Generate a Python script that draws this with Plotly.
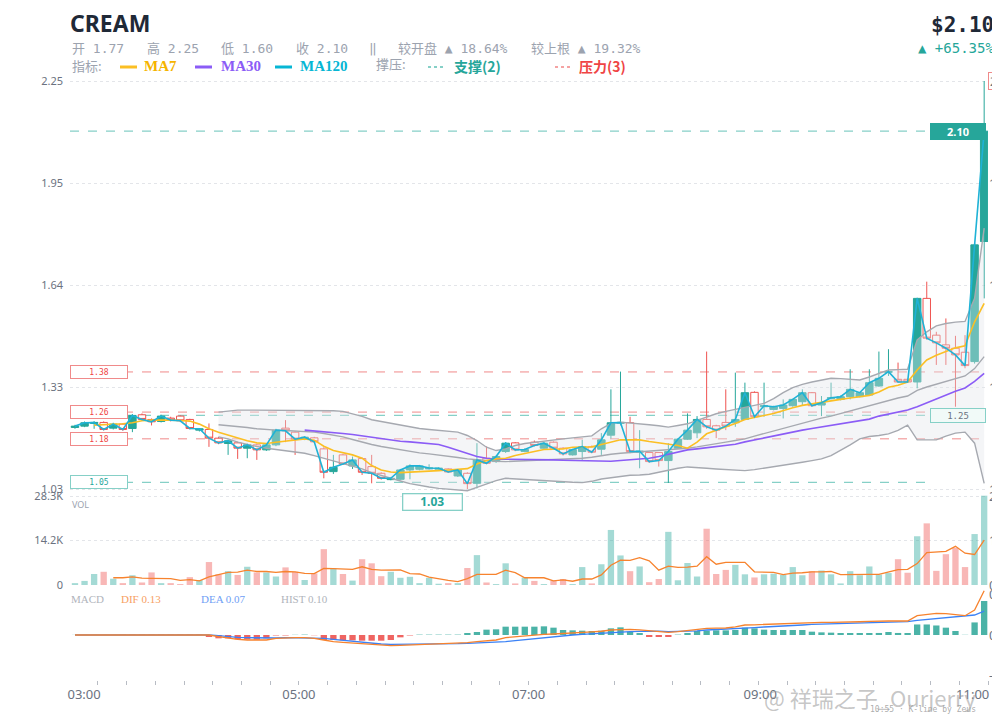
import plotly.graph_objects as go

# CREAM 5-minute candles, about 02:55 -> 10:50
opens = [1.214, 1.218, 1.226, 1.229, 1.212, 1.224, 1.211, 1.252, 1.238, 1.232,
         1.242, 1.248, 1.238, 1.206, 1.208, 1.182, 1.166, 1.168, 1.152, 1.162,
         1.147, 1.162, 1.212, 1.200, 1.179, 1.183, 1.150, 1.082, 1.132, 1.099,
         1.121, 1.097, 1.077, 1.058, 1.059, 1.087, 1.089, 1.090, 1.089, 1.090,
         1.069, 1.077, 1.047, 1.122, 1.112, 1.142, 1.168, 1.142, 1.170, 1.152,
         1.170, 1.152, 1.132, 1.142, 1.156, 1.149, 1.191, 1.226, 1.228, 1.140,
         1.139, 1.139, 1.115, 1.152, 1.179, 1.198, 1.238, 1.219, 1.229, 1.228,
         1.238, 1.319, 1.276, 1.268, 1.271, 1.279, 1.291, 1.318, 1.281, 1.300,
         1.298, 1.306, 1.306, 1.311, 1.338, 1.379, 1.358, 1.358, 1.350, 1.600,
         1.490, 1.461, 1.451, 1.439, 1.411, 1.770]
highs = [1.222, 1.232, 1.233, 1.232, 1.228, 1.226, 1.254, 1.256, 1.241, 1.252,
         1.246, 1.250, 1.240, 1.212, 1.226, 1.186, 1.178, 1.172, 1.166, 1.165,
         1.166, 1.210, 1.236, 1.202, 1.188, 1.186, 1.155, 1.132, 1.135, 1.127,
         1.124, 1.132, 1.080, 1.066, 1.090, 1.104, 1.102, 1.104, 1.095, 1.092,
         1.090, 1.080, 1.167, 1.157, 1.130, 1.170, 1.170, 1.152, 1.175, 1.170,
         1.172, 1.155, 1.150, 1.177, 1.160, 1.197, 1.328, 1.381, 1.246, 1.206,
         1.140, 1.140, 1.167, 1.182, 1.256, 1.248, 1.441, 1.222, 1.328, 1.378,
         1.348, 1.322, 1.348, 1.279, 1.298, 1.300, 1.328, 1.320, 1.308, 1.348,
         1.310, 1.388, 1.320, 1.388, 1.441, 1.448, 1.408, 1.360, 1.602, 1.650,
         1.500, 1.540, 1.488, 1.490, 1.765, 2.250]
lows = [1.210, 1.215, 1.210, 1.205, 1.208, 1.204, 1.200, 1.234, 1.220, 1.229,
        1.232, 1.230, 1.208, 1.202, 1.156, 1.164, 1.132, 1.120, 1.122, 1.117,
        1.144, 1.158, 1.170, 1.132, 1.176, 1.168, 1.062, 1.075, 1.102, 1.090,
        1.072, 1.047, 1.058, 1.056, 1.056, 1.059, 1.086, 1.088, 1.087, 1.078,
        1.066, 1.030, 1.032, 1.104, 1.108, 1.138, 1.143, 1.140, 1.157, 1.150,
        1.150, 1.130, 1.130, 1.117, 1.137, 1.132, 1.181, 1.220, 1.137, 1.092,
        1.108, 1.097, 1.048, 1.150, 1.177, 1.182, 1.210, 1.182, 1.206, 1.216,
        1.236, 1.243, 1.246, 1.265, 1.241, 1.276, 1.281, 1.276, 1.248, 1.298,
        1.295, 1.298, 1.304, 1.308, 1.336, 1.368, 1.348, 1.348, 1.331, 1.476,
        1.401, 1.401, 1.276, 1.391, 1.405, 1.600]
closes = [1.218, 1.228, 1.229, 1.208, 1.224, 1.208, 1.250, 1.238, 1.231, 1.248,
          1.236, 1.234, 1.211, 1.210, 1.182, 1.168, 1.174, 1.152, 1.162, 1.147,
          1.162, 1.206, 1.204, 1.179, 1.185, 1.171, 1.080, 1.095, 1.105, 1.117,
          1.080, 1.077, 1.062, 1.062, 1.087, 1.099, 1.099, 1.093, 1.092, 1.081,
          1.087, 1.046, 1.117, 1.107, 1.127, 1.167, 1.147, 1.148, 1.160, 1.167,
          1.152, 1.135, 1.148, 1.157, 1.140, 1.177, 1.228, 1.229, 1.142, 1.143,
          1.112, 1.115, 1.142, 1.179, 1.206, 1.238, 1.216, 1.206, 1.218, 1.238,
          1.318, 1.246, 1.279, 1.276, 1.281, 1.298, 1.318, 1.279, 1.288, 1.303,
          1.306, 1.328, 1.318, 1.348, 1.361, 1.381, 1.350, 1.350, 1.600, 1.481,
          1.467, 1.451, 1.431, 1.399, 1.760, 2.100]

ma7 = [None, None, 1.221, 1.222, 1.224, 1.225, 1.228, 1.234, 1.236, 1.237,
       1.236, 1.235, 1.233, 1.224, 1.210, 1.200, 1.191, 1.182, 1.174, 1.168,
       1.166, 1.170, 1.174, 1.177, 1.180, 1.176, 1.158, 1.145, 1.138, 1.132,
       1.122, 1.100, 1.087, 1.081, 1.079, 1.080, 1.082, 1.083, 1.085, 1.087,
       1.088, 1.091, 1.105, 1.115, 1.120, 1.122, 1.130, 1.136, 1.142, 1.148,
       1.149, 1.150, 1.155, 1.155, 1.156, 1.163, 1.170, 1.177, 1.177, 1.177,
       1.172, 1.168, 1.166, 1.160, 1.152, 1.170, 1.195, 1.205, 1.215, 1.226,
       1.238, 1.245, 1.250, 1.256, 1.265, 1.273, 1.280, 1.285, 1.290, 1.294,
       1.298, 1.302, 1.306, 1.310, 1.320, 1.334, 1.340, 1.350, 1.386, 1.416,
       1.430, 1.441, 1.452, 1.458, 1.530, 1.585]
ma30 = [None] * 24 + [
    1.206, 1.204, 1.200, 1.198, 1.196, 1.193,
    1.189, 1.184, 1.180, 1.177, 1.173, 1.171, 1.168, 1.167, 1.163, 1.155,
    1.145, 1.135, 1.127, 1.122, 1.119, 1.119, 1.119, 1.119, 1.118, 1.117,
    1.117, 1.116, 1.115, 1.114, 1.113, 1.112, 1.113, 1.115, 1.117, 1.119,
    1.122, 1.127, 1.134, 1.141, 1.147, 1.150, 1.153, 1.156, 1.159, 1.164,
    1.171, 1.177, 1.183, 1.190, 1.196, 1.201, 1.206, 1.211, 1.216, 1.221,
    1.226, 1.230, 1.234, 1.239, 1.248, 1.254, 1.259, 1.266, 1.276, 1.288,
    1.300, 1.312, 1.322, 1.332, 1.352, 1.376]

bb_upper = [None] * 15 + [
    1.260, 1.264, 1.266, 1.266, 1.266,
    1.266, 1.266, 1.266, 1.266, 1.266, 1.265, 1.266, 1.264, 1.262, 1.255,
    1.247, 1.237, 1.232, 1.226, 1.220, 1.215, 1.211, 1.208, 1.206, 1.204,
    1.200, 1.190, 1.175, 1.155, 1.145, 1.150, 1.160, 1.166, 1.170, 1.174,
    1.178, 1.180, 1.183, 1.186, 1.189, 1.210, 1.226, 1.230, 1.228, 1.225,
    1.222, 1.219, 1.215, 1.220, 1.225, 1.235, 1.246, 1.255, 1.262, 1.268,
    1.274, 1.280, 1.286, 1.300, 1.318, 1.333, 1.343, 1.350, 1.356, 1.361,
    1.360, 1.358, 1.356, 1.365, 1.376, 1.386, 1.387, 1.388, 1.476, 1.500,
    1.518, 1.525, 1.529, 1.531, 1.600, 1.810]
bb_mid = [None] * 15 + [
    1.222, 1.220, 1.217, 1.214, 1.210,
    1.207, 1.206, 1.205, 1.204, 1.203, 1.200, 1.196, 1.192, 1.186, 1.178,
    1.170, 1.163, 1.157, 1.152, 1.147, 1.141, 1.138, 1.135, 1.132, 1.128,
    1.124, 1.120, 1.117, 1.115, 1.113, 1.112, 1.113, 1.114, 1.115, 1.116,
    1.117, 1.118, 1.120, 1.122, 1.125, 1.130, 1.134, 1.137, 1.139, 1.141,
    1.143, 1.145, 1.147, 1.150, 1.152, 1.156, 1.160, 1.165, 1.170, 1.175,
    1.180, 1.188, 1.196, 1.204, 1.210, 1.218, 1.226, 1.234, 1.242, 1.248,
    1.256, 1.264, 1.272, 1.280, 1.288, 1.295, 1.302, 1.308, 1.325, 1.335,
    1.343, 1.352, 1.360, 1.368, 1.390, 1.426]
bb_lower = [None] * 15 + [
    1.186, 1.180, 1.170, 1.163, 1.157,
    1.152, 1.148, 1.145, 1.140, 1.137, 1.130, 1.122, 1.115, 1.106, 1.100,
    1.090, 1.079, 1.070, 1.062, 1.054, 1.046, 1.040, 1.036, 1.032, 1.030,
    1.027, 1.025, 1.035, 1.045, 1.055, 1.062, 1.060, 1.058, 1.056, 1.055,
    1.054, 1.052, 1.050, 1.049, 1.053, 1.060, 1.064, 1.068, 1.071, 1.072,
    1.074, 1.080, 1.087, 1.092, 1.096, 1.095, 1.092, 1.090, 1.088, 1.086,
    1.085, 1.088, 1.092, 1.097, 1.100, 1.104, 1.110, 1.115, 1.120, 1.130,
    1.145, 1.162, 1.180, 1.187, 1.190, 1.195, 1.205, 1.221, 1.177, 1.177,
    1.177, 1.188, 1.197, 1.200, 1.167, 1.047]

# volume in thousands
volume = [0.6, 1.3, 3.5, 4.2, 2.0, 0.6, 3.1, 0.8, 4.0, 0.6,
          0.6, 0.3, 2.5, 1.6, 7.3, 3.4, 4.4, 3.2, 5.8, 4.0,
          4.0, 2.7, 5.6, 4.2, 1.6, 3.7, 11.4, 5.3, 3.5, 1.4,
          8.2, 6.9, 2.8, 4.2, 2.3, 2.6, 0.6, 2.3, 0.4, 0.6,
          0.6, 5.4, 9.5, 0.8, 0.3, 6.9, 0.5, 2.4, 1.3, 0.3,
          1.4, 1.9, 0.3, 5.7, 0.5, 6.6, 17.5, 9.4, 4.4, 5.9,
          0.9, 1.9, 16.9, 1.5, 7.0, 2.7, 17.9, 3.5, 4.8, 6.4,
          3.4, 2.4, 3.4, 3.6, 3.2, 5.7, 3.1, 4.4, 4.6, 3.4,
          0.5, 4.4, 3.1, 5.9, 3.3, 3.8, 8.2, 3.9, 15.5, 19.6,
          4.5, 9.8, 11.8, 5.7, 16.2, 28.4]
vol_ma = [None] * 4 + [
    2.3, 2.3, 2.6, 2.2, 2.1, 2.0,
    2.0, 1.5, 1.7, 1.3, 2.6, 3.3, 4.0, 4.1, 4.7, 4.3,
    4.3, 4.0, 4.3, 4.2, 3.7, 3.6, 5.3, 5.2, 5.0, 5.0,
    5.8, 5.0, 4.7, 4.7, 4.8, 3.6, 3.5, 2.5, 1.9, 1.5,
    1.1, 2.0, 3.4, 3.4, 3.4, 4.7, 3.9, 2.3, 2.3, 2.3,
    1.3, 1.6, 1.2, 1.9, 1.9, 3.2, 6.3, 7.9, 7.8, 8.7,
    7.7, 4.7, 6.0, 5.6, 5.7, 6.0, 9.0, 6.6, 7.2, 7.2,
    7.2, 4.2, 4.2, 4.0, 3.3, 3.8, 3.9, 4.2, 4.2, 4.3,
    3.3, 3.4, 3.4, 3.4, 3.4, 4.2, 4.9, 5.0, 6.8, 10.3,
    10.5, 10.7, 12.3, 10.1, 9.7, 14.3]

dif = [0.0] * 5 + [0.002] * 9 + [
    0.0, -0.005, -0.0098, -0.0127, -0.0147, -0.0157,
    -0.0147, -0.0098, -0.0078, -0.0078, -0.0078, -0.0098, -0.0147, -0.0196, -0.0216, -0.0235,
    -0.0255, -0.0274, -0.0294, -0.0314, -0.0304, -0.0294, -0.0284, -0.0274, -0.0265, -0.0255,
    -0.0245, -0.0225, -0.0196, -0.0176, -0.0147, -0.0078, -0.005, -0.002, 0.0, 0.002,
    0.003, 0.004, 0.005, 0.007, 0.009, 0.011, 0.0147, 0.016, 0.0167, 0.015,
    0.0127, 0.01, 0.0078, 0.01, 0.0137, 0.017, 0.0196, 0.02, 0.0206, 0.024,
    0.0294, 0.03, 0.031, 0.0323, 0.034, 0.036, 0.0372, 0.0372, 0.0372, 0.0372,
    0.0372, 0.038, 0.039, 0.040, 0.0412, 0.0412, 0.0412, 0.0412, 0.0568, 0.0607,
    0.0637, 0.0627, 0.0607, 0.0568, 0.0735, 0.13]
dea = [0.0] * 5 + [0.001] * 9 + [
    0.0, -0.002, -0.005, -0.0069, -0.0078, -0.0088,
    -0.0088, -0.0088, -0.0078, -0.0078, -0.0078, -0.0078, -0.0098, -0.0127, -0.0157, -0.0186,
    -0.0216, -0.0245, -0.0265, -0.0274, -0.0274, -0.0274, -0.0274, -0.0274, -0.0265, -0.0265,
    -0.0255, -0.0245, -0.0235, -0.0225, -0.0206, -0.0196, -0.0167, -0.0137, -0.0098, -0.0074,
    -0.005, -0.0025, 0.0, 0.002, 0.004, 0.006, 0.0078, 0.0088, 0.0098, 0.0108,
    0.0118, 0.0113, 0.0098, 0.0098, 0.0098, 0.012, 0.0147, 0.0157, 0.0167, 0.0186,
    0.0196, 0.0216, 0.0235, 0.0255, 0.027, 0.0284, 0.0294, 0.031, 0.032, 0.0333,
    0.0343, 0.0353, 0.0363, 0.037, 0.0372, 0.038, 0.039, 0.0392, 0.0431, 0.046,
    0.049, 0.052, 0.054, 0.0559, 0.0588, 0.07]
hist = [0.0005] * 5 + [0.002] * 9 + [
    -0.003, -0.0098, -0.0098, -0.0127, -0.0127, -0.0137,
    -0.0098, -0.002, -0.002, 0.001, 0.002, -0.001, -0.0147, -0.0147, -0.0157, -0.0157,
    -0.0167, -0.0167, -0.0167, -0.0147, -0.0069, -0.002, 0.002, 0.002, 0.002, 0.002,
    0.002, 0.004, 0.0088, 0.0157, 0.0167, 0.0245, 0.0245, 0.0245, 0.0245, 0.0255,
    0.0216, 0.0147, 0.0137, 0.0127, 0.0118, 0.0127, 0.0196, 0.0225, 0.0098, 0.005,
    -0.005, -0.005, -0.004, 0.002, 0.004, 0.0118, 0.0127, 0.0137, 0.0137, 0.0147,
    0.0216, 0.0196, 0.0157, 0.0147, 0.0147, 0.0147, 0.0147, 0.0098, 0.0078, 0.0069,
    0.005, 0.005, 0.004, 0.005, 0.006, 0.0088, 0.006, 0.004, 0.031, 0.031,
    0.028, 0.0216, 0.0118, 0.001, 0.037, 0.10]

price_ticks = [1.03, 1.335, 1.64, 1.945, 2.25]
price_tick_text = ["1.03", "1.33", "1.64", "1.95", "2.25"]
vol_ticks = [0, 14.2, 28.3]
vol_tick_text = ["0", "14.2K", "28.3K"]
macd_ticks = [0.12, 0.0, -0.12]
macd_tick_text = ["0.12", "0.00", "-0.12"]
time_labels = ["03:00", "05:00", "07:00", "09:00", "11:00"]
time_pos = [0.95, 23.4, 47.4, 71.6, 93.8]

resistance = [1.38, 1.26, 1.18]
support = [1.05, 1.25]
last_price = 2.10
low_idx, low_price = 41, 1.03
high_price = 2.25

TEAL = "#26a69a"
RED = "#ef5350"
GRAY = "#9ca3af"

# the page puts the figure 8px in from the top-left corner of the window,
# so the figure is 992x712 and reference pixel positions are shifted by OFF
OFF = 8
W, H = 1000 - OFF, 720 - OFF
L = 70 - OFF
R = W - (988 - OFF)
PW = W - L - R


def px(xp):
    return (xp - OFF - L) / PW


def py(yp):
    return 1 - (yp - OFF) / H


idx = list(range(len(closes)))
up = [c >= o for o, c in zip(opens, closes)]

# price axis: 1.03 at y=489px, 2.25 at y=81px, panel 68..492px
k = (489 - 81) / (2.25 - 1.03)
price_range = [1.03 - (492 - 489) / k, 2.25 + (81 - 68) / k]
# volume: 0 at 585px, 28.3K at 496px, panel 494..585
kv = (585 - 496) / 28.3
vol_range = [0, 28.3 + (496 - 494) / kv]
# macd: zero at 635px, panel 590..680
km = 34 / 0.10
macd_range = [-(680 - 635) / km, (635 - 590) / km]

fig = go.Figure()

band = dict(color="#a6a9b0", width=1.4)
fig.add_trace(go.Scatter(x=idx, y=bb_upper, mode="lines", line=band, xaxis="x", yaxis="y"))
fig.add_trace(go.Scatter(x=idx, y=bb_lower, mode="lines", line=band, fill="tonexty",
                         fillcolor="rgba(226,229,234,0.38)", xaxis="x", yaxis="y"))
fig.add_trace(go.Scatter(x=idx, y=bb_mid, mode="lines", line=band, xaxis="x", yaxis="y"))

fig.add_trace(go.Candlestick(
    x=idx, open=opens, high=highs, low=lows, close=closes,
    increasing=dict(line=dict(color=TEAL, width=1), fillcolor=TEAL),
    decreasing=dict(line=dict(color=RED, width=1), fillcolor="white"),
    whiskerwidth=0, xaxis="x", yaxis="y", hoverinfo="skip"))

fig.add_trace(go.Scatter(x=idx, y=ma30, mode="lines", line=dict(color="#8b5cf6", width=1.6),
                         xaxis="x", yaxis="y"))
fig.add_trace(go.Scatter(x=idx, y=ma7, mode="lines", line=dict(color="#fbbf24", width=1.6),
                         xaxis="x", yaxis="y"))
fig.add_trace(go.Scatter(x=idx, y=closes, mode="lines", line=dict(color="#1fb2d6", width=1.6),
                         xaxis="x", yaxis="y"))

vol_colors = ["rgba(38,166,154,0.42)" if u else "rgba(239,83,80,0.42)" for u in up]
fig.add_trace(go.Bar(x=idx, y=volume, marker=dict(color=vol_colors, line=dict(width=0)),
                     width=0.66, xaxis="x2", yaxis="y2"))
fig.add_trace(go.Scatter(x=idx, y=vol_ma, mode="lines", line=dict(color="#f7832e", width=1.3),
                         xaxis="x2", yaxis="y2"))

hist_colors = []
for h in hist:
    if abs(h) < 0.003:
        hist_colors.append("rgba(38,166,154,0.45)" if h >= 0 else "rgba(239,83,80,0.6)")
    else:
        hist_colors.append("#4bb3a7" if h >= 0 else "#ef6461")
fig.add_trace(go.Bar(x=idx, y=hist, marker=dict(color=hist_colors, line=dict(width=0)),
                     width=0.66, xaxis="x3", yaxis="y3"))
fig.add_trace(go.Scatter(x=idx, y=dea, mode="lines", line=dict(color="#3b82f6", width=1.3),
                         xaxis="x3", yaxis="y3"))
fig.add_trace(go.Scatter(x=idx, y=dif, mode="lines", line=dict(color="#f7832e", width=1.3),
                         xaxis="x3", yaxis="y3"))

# invisible copies so the right-hand price / volume / macd scales get drawn
for series, ya in [(closes, "y4"), (volume, "y5"), (hist, "y6")]:
    fig.add_trace(go.Scatter(x=idx, y=series, mode="lines", opacity=0, line=dict(width=0),
                             xaxis="x" if ya == "y4" else ("x2" if ya == "y5" else "x3"), yaxis=ya,
                             hoverinfo="skip"))

shapes = []
for lv in resistance:
    shapes.append(dict(type="line", xref="paper", yref="y", x0=0, x1=1, y0=lv, y1=lv,
                       line=dict(color="#f08a8a", width=1, dash="dash"), layer="below"))
for lv in support:
    shapes.append(dict(type="line", xref="paper", yref="y", x0=0, x1=px(930), y0=lv, y1=lv,
                       line=dict(color="#86d0c7", width=1.2, dash="dash"), layer="below"))
shapes.append(dict(type="line", xref="paper", yref="y", x0=0, x1=px(928), y0=last_price,
                   y1=last_price, line=dict(color="#86d0c7", width=1.2, dash="dash"), layer="below"))
# legend swatches in the header
for x0, x1, col, dash, wd in [(120, 137, "#fbbf24", "solid", 3), (195, 212, "#8b5cf6", "solid", 3),
                              (275, 292, "#06b6d4", "solid", 3), (428, 446, "#86d0c7", "dot", 2),
                              (555, 572, "#f5a3a3", "dot", 2)]:
    shapes.append(dict(type="line", xref="paper", yref="paper", x0=px(x0), x1=px(x1),
                       y0=py(67), y1=py(67), line=dict(color=col, width=wd, dash=dash)))

ann = []


def text(xp, yp, s, size=13, color=GRAY, family="Noto Sans, Noto Sans CJK SC", xanchor="left", **kw):
    ann.append(dict(xref="paper", yref="paper", x=px(xp), y=py(yp), text=s, showarrow=False,
                    xanchor=xanchor, yanchor="middle", font=dict(size=size, color=color, family=family), **kw))


mono = "DejaVu Sans Mono, Noto Sans CJK SC"
cjk = "Noto Sans CJK SC"
text(68, 23, "<b>CREAM</b>", size=23, color="#1f2937", family="Noto Sans")
for xp, s in [(70, "开 1.77"), (145, "高 2.25"), (219, "低 1.60"), (294, "收 2.10"),
              (367, "‖"), (396, "较开盘 ▲ 18.64%"), (529, "较上根 ▲ 19.32%")]:
    text(xp, 48, s, size=13, color=GRAY, family=mono)
text(70, 65, "指标:", size=13, color=GRAY, family=cjk)
text(142, 66, "<b>MA7</b>", size=15, color="#f5b400", family="Liberation Serif")
text(219, 66, "<b>MA30</b>", size=15, color="#8b5cf6", family="Liberation Serif")
text(298, 66, "<b>MA120</b>", size=15, color="#06b6d4", family="Liberation Serif")
text(374, 63, "撑压:", size=13, color=GRAY, family=cjk)
text(452, 66, "<b>支撑(2)</b>", size=14, color=TEAL, family=cjk)
text(577, 66, "<b>压力(3)</b>", size=14, color="#ef4444", family=cjk)
text(996, 25, "<b>$2.10</b>", size=21, color="#1f2937", family="DejaVu Sans Mono", xanchor="right")
text(996, 48, "▲ +65.35%", size=14, color=TEAL, family="DejaVu Sans Mono", xanchor="right")

text(70, 504, "VOL", size=9, color=GRAY, family="Noto Sans")
text(69, 599, "MACD", size=11, color="#b0b4bb", family="Liberation Serif")
text(119, 599, "DIF 0.13", size=11, color="#f7a063", family="Liberation Serif")
text(199, 599, "DEA 0.07", size=11, color="#6fa0f5", family="Liberation Serif")
text(279, 599, "HIST 0.10", size=11, color="#b0b4bb", family="Liberation Serif")

# level boxes on the left
for lv, col, bcol in [(1.38, "#ef4444", "#f08a8a"), (1.26, "#ef4444", "#f08a8a"),
                      (1.18, "#ef4444", "#f08a8a"), (1.05, TEAL, "#86d0c7")]:
    ann.append(dict(xref="paper", yref="y", x=0, y=lv, text=f"{lv:.2f}", showarrow=False,
                    xanchor="left", yanchor="middle", width=54, height=10, bgcolor="white",
                    bordercolor=bcol, borderwidth=1, borderpad=1,
                    font=dict(size=8, color=col, family="DejaVu Sans Mono")))
# support label on the right
ann.append(dict(xref="paper", yref="y", x=px(986), y=support[1], text=f"{support[1]:.2f}",
                showarrow=False, xanchor="right", yanchor="middle", width=52, height=11,
                bgcolor="#f1faf8", bordercolor="#86d0c7", borderwidth=1, borderpad=1,
                font=dict(size=9, color="#6b7280", family="DejaVu Sans Mono")))
# last price tag
ann.append(dict(xref="paper", yref="y", x=px(986), y=last_price, text=f"<b>{last_price:.2f}</b>",
                showarrow=False, xanchor="right", yanchor="middle", width=52, height=13,
                bgcolor=TEAL, bordercolor=TEAL, borderwidth=1, borderpad=1,
                font=dict(size=11, color="white", family="Noto Sans")))
# high tag on the right edge
ann.append(dict(xref="paper", yref="y", x=1.0, y=high_price, text=f"{high_price:.2f}",
                showarrow=False, xanchor="left", yanchor="middle", height=14, bgcolor="white",
                bordercolor="#f08a8a", borderwidth=1, borderpad=1,
                font=dict(size=12, color="#6b7280", family="Noto Sans")))
# low marker
ann.append(dict(xref="x", yref="paper", x=low_idx, y=py(502), text=f"<b>{low_price:.2f}</b>",
                showarrow=False, xanchor="right", yanchor="middle", xshift=-4, width=56, height=13,
                bgcolor="white", bordercolor="#86d0c7", borderwidth=1.3, borderpad=1,
                font=dict(size=12, color=TEAL, family="Noto Sans")))

# watermark
text(762, 697, "@ 祥瑞之子_Ourjerry", size=22, color="rgba(150,150,150,0.55)", family=cjk)
text(868, 709, "10:55 · K-line by Zeus", size=8, color="rgba(150,150,150,0.8)", family="DejaVu Sans Mono")

axis_common = dict(showgrid=False, zeroline=False, showline=False, automargin=False)
ylab = dict(size=11, color="#6b7280", family="Noto Sans")
rlab = dict(size=13, color="#6b7280", family="Noto Sans")

fig.update_layout(
    template="none",
    width=W, height=H,
    margin=dict(l=L, r=R, t=0, b=0),
    paper_bgcolor="white", plot_bgcolor="white",
    showlegend=False, hovermode=False,
    boxgap=0.22, boxgroupgap=0,
    font=dict(family="Noto Sans, Noto Sans CJK SC", color="#6b7280"),
    xaxis=dict(domain=[0, 1], range=[-0.52, 95.4], anchor="y", showticklabels=False,
               rangeslider=dict(visible=False), ticks="", **axis_common),
    xaxis2=dict(domain=[0, 1], range=[-0.52, 95.4], anchor="y2", showticklabels=False,
                ticks="", **axis_common),
    xaxis3=dict(domain=[0, 1], range=[-0.52, 95.4], anchor="y3", tickmode="array",
                tickvals=time_pos, ticktext=time_labels, ticks="", ticklabelstandoff=5,
                tickfont=dict(size=13, color="#6b7280", family="Noto Sans"),
                minor=dict(ticks="outside", ticklen=4, tickcolor="#b8bcc4", tickmode="linear",
                           tick0=2.4, dtick=3, showgrid=False),
                **axis_common),
    yaxis=dict(domain=[py(492), py(68)], range=price_range, anchor="x", tickmode="array",
               tickvals=price_ticks, ticktext=price_tick_text, ticks="", tickfont=ylab,
               ticklabelstandoff=6, showgrid=True, gridcolor="#e3e5e9", griddash="dot",
               zeroline=False, showline=False, automargin=False),
    yaxis4=dict(overlaying="y", side="right", anchor="x", range=price_range, tickmode="array",
                tickvals=price_ticks, ticktext=price_tick_text, ticks="", tickfont=rlab,
                showticklabels=True, **axis_common),
    yaxis2=dict(domain=[py(585), py(494)], range=vol_range, anchor="x2", tickmode="array",
                tickvals=vol_ticks, ticktext=vol_tick_text, ticks="", tickfont=ylab,
                ticklabelstandoff=6, showgrid=True, gridcolor="#e3e5e9", griddash="dot",
                zeroline=False, showline=False, automargin=False),
    yaxis5=dict(overlaying="y2", side="right", anchor="x2", range=vol_range, tickmode="array",
                tickvals=vol_ticks, ticktext=vol_tick_text, ticks="", tickfont=rlab,
                showticklabels=True, **axis_common),
    yaxis3=dict(domain=[py(680), py(590)], range=macd_range, anchor="x3", showticklabels=False,
                ticks="", **axis_common),
    yaxis6=dict(overlaying="y3", side="right", anchor="x3", range=macd_range, tickmode="array",
                tickvals=macd_ticks, ticktext=macd_tick_text, ticks="", tickfont=rlab,
                showticklabels=True, **axis_common),
    shapes=shapes,
    annotations=ann,
)

fig.write_html("out.html")
